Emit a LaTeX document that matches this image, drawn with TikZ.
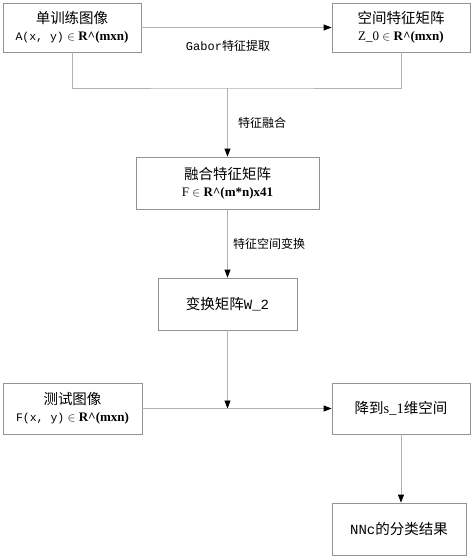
\documentclass[tikz,border=0pt]{standalone}
\usepackage{fontspec}
\setmainfont{Liberation Serif}
\setmonofont{Liberation Mono}
\newfontfamily\cjk{Noto Sans CJK SC}
\usetikzlibrary{arrows.meta}
\tikzset{
  box/.style={draw=gray!85, line width=0.8pt, fill=white, inner sep=0pt, align=center,
    font=\fontsize{13}{17}\selectfont},
  conn/.style={draw=gray!60, line width=0.9pt},
  arr/.style={conn, -{Triangle[length=8pt,width=6pt,black]}},
  lab/.style={font=\cjk\fontsize{12}{14}\selectfont, inner sep=0pt}
}
\newcommand{\ck}[1]{{\cjk\fontsize{14.5}{17}\selectfont #1}}
\newcommand{\mt}[1]{{\ttfamily\fontsize{11.5}{17}\selectfont #1}}
\begin{document}
\begin{tikzpicture}[x=1pt,y=-1pt]
\useasboundingbox[fill=white] (0,0) rectangle (474,558);
\node[box, minimum width=138pt, minimum height=49pt] (b1) at (72,27.5)
  {\ck{单训练图像}\\\mt{A(x, y)} $\in$ \textbf{R\textasciicircum(mxn)}};
\node[box, minimum width=138pt, minimum height=49pt] (b2) at (401,27.5)
  {\ck{空间特征矩阵}\\Z\_0 $\in$ \textbf{R\textasciicircum(mxn)}};
\node[box, minimum width=183pt, minimum height=52pt] (b3) at (227.5,183)
  {\ck{融合特征矩阵}\\F $\in$ \textbf{R\textasciicircum(m*n)x41}};
\node[box, minimum width=139pt, minimum height=52pt] (b4) at (227.5,304)
  {\ck{变换矩阵}{\ttfamily\fontsize{14}{17}\selectfont W\_2}};
\node[box, minimum width=139pt, minimum height=51pt] (b5) at (72.5,408.5)
  {\ck{测试图像}\\\mt{F(x, y)} $\in$ \textbf{R\textasciicircum(mxn)}};
\node[box, minimum width=138pt, minimum height=51pt] (b6) at (401,408.5)
  {\ck{降到}{\fontsize{14.5}{17}\selectfont s\_1}\ck{维空间}};
\node[box, minimum width=134pt, minimum height=52pt] (b7) at (399,529)
  {{\ttfamily\fontsize{14}{17}\selectfont NNc}\ck{的分类结果}};

\coordinate (j) at (227.5,88);
\coordinate (k) at (227.5,408.5);

\draw[arr] (b1.east) -- (b2.west);
\node[lab] (l1) at (228,46) {{\ttfamily\fontsize{12}{14}\selectfont Gabor}特征提取};
\draw[conn] (b1.south) |- (j) -| (b2.south);
\draw[arr] (j) -- (b3.north);
\node[lab, anchor=west] (l2) at (238,123) {特征融合};
\draw[arr] (b3.south) -- (b4.north);
\node[lab, anchor=west] (l3) at (233,244) {特征空间变换};
\draw[arr] (b4.south) -- (k);
\draw[arr] (b5.east) -- (b6.west);
\draw[arr] (b6.south) -- (b6.south |- b7.north);
\end{tikzpicture}
\end{document}
